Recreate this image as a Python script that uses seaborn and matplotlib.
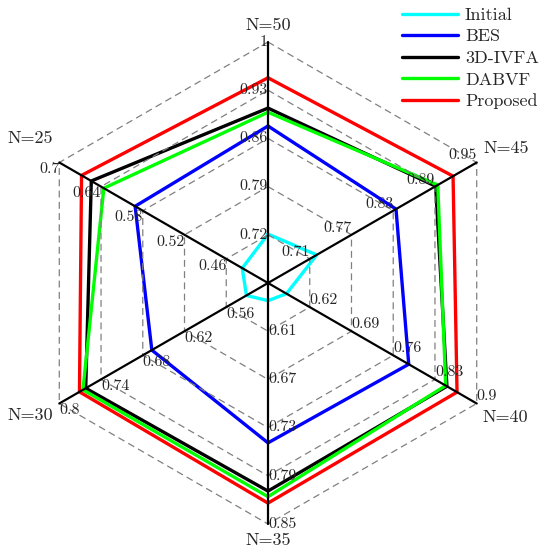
import numpy as np
import pandas as pd
import matplotlib
matplotlib.use('Agg')
import matplotlib.pyplot as plt
import seaborn as sns

# axes of the radar, clockwise from the top
axis_names = ['N=50', 'N=45', 'N=40', 'N=35', 'N=30', 'N=25']
axis_min = [0.65, 0.65, 0.55, 0.55, 0.50, 0.40]
axis_max = [1.00, 0.95, 0.90, 0.85, 0.80, 0.70]
tick_labels = [
    ['0.72', '0.79', '0.86', '0.93', '1'],
    ['0.71', '0.77', '0.83', '0.89', '0.95'],
    ['0.62', '0.69', '0.76', '0.83', '0.9'],
    ['0.61', '0.67', '0.73', '0.79', '0.85'],
    ['0.56', '0.62', '0.68', '0.74', '0.8'],
    ['0.46', '0.52', '0.58', '0.64', '0.7'],
]

methods = ['Initial', 'BES', '3D-IVFA', 'DABVF', 'Proposed']
initial = [0.721, 0.720, 0.581, 0.572, 0.531, 0.437]
bes = [0.878, 0.834, 0.786, 0.749, 0.667, 0.591]
ivfa = [0.904, 0.891, 0.850, 0.809, 0.762, 0.654]
dabvf = [0.898, 0.894, 0.848, 0.816, 0.766, 0.636]
proposed = [0.948, 0.916, 0.867, 0.824, 0.771, 0.668]
colors = ['#00FFFF', '#0000FF', '#000000', '#00FF00', '#FF0000']

sns.set_style('white')
plt.rcParams['font.family'] = ['cmr10', 'DejaVu Serif']
plt.rcParams['axes.unicode_minus'] = False

angles = np.deg2rad([90, 30, -30, -90, -150, 150])
lo = np.array(axis_min)
hi = np.array(axis_max)

fig = plt.figure(figsize=(5.5, 5.5), dpi=100)
ax = fig.add_axes([0, 0, 1, 1])
ax.set_xlim(-268 / 241, 282 / 241)
ax.set_ylim(-267 / 241, 283 / 241)
ax.set_aspect('equal')
ax.axis('off')

# dashed hexagon rings
for k in range(1, 6):
    r = k / 5
    gx = np.append(r * np.cos(angles), r * np.cos(angles[0]))
    gy = np.append(r * np.sin(angles), r * np.sin(angles[0]))
    ax.plot(gx, gy, color='#808080', lw=0.9, ls=(0, (5.5, 3.5)), zorder=3)

# spokes
for a in angles:
    ax.plot([0, np.cos(a)], [0, np.sin(a)], color='black', lw=1.6, zorder=4)

# series
for name, vals, c in zip(methods, [initial, bes, ivfa, dabvf, proposed], colors):
    r = (np.array(vals) - lo) / (hi - lo)
    df = pd.DataFrame({'x': r * np.cos(angles), 'y': r * np.sin(angles)})
    df = pd.concat([df, df.iloc[:1]], ignore_index=True)
    sns.lineplot(data=df, x='x', y='y', sort=False, estimator=None,
                 color=c, lw=2.4, ax=ax, label=name, zorder=2)

# tick labels on each spoke
tick_align = [('right', 'center'), ('right', 'bottom'), ('left', 'bottom'),
              ('left', 'center'), ('left', 'top'), ('right', 'top')]
for i, a in enumerate(angles):
    ha, va = tick_align[i]
    for k, lab in enumerate(tick_labels[i]):
        r = (k + 1) / 5
        ax.text(r * np.cos(a), r * np.sin(a), lab, ha=ha, va=va,
                fontsize=11.5, zorder=5)

# axis titles
title_pos = [(0.0, 1.07, 'center'), (0.896, 0.56, 'left'), (0.892, -0.556, 'left'),
             (0.0, -1.066, 'center'), (-0.892, -0.548, 'right'), (-0.892, 0.602, 'right')]
for name, (tx, ty, ha) in zip(axis_names, title_pos):
    ax.text(tx, ty, name, ha=ha, va='center', fontsize=13)

ax.legend(loc='upper right', bbox_to_anchor=(546 / 550, 1.0),
          bbox_transform=fig.transFigure, frameon=False, fontsize=13,
          handlelength=3.1, handletextpad=0.4, labelspacing=0.33,
          borderpad=0.4, borderaxespad=0)

fig.savefig('out.png', dpi=100)
